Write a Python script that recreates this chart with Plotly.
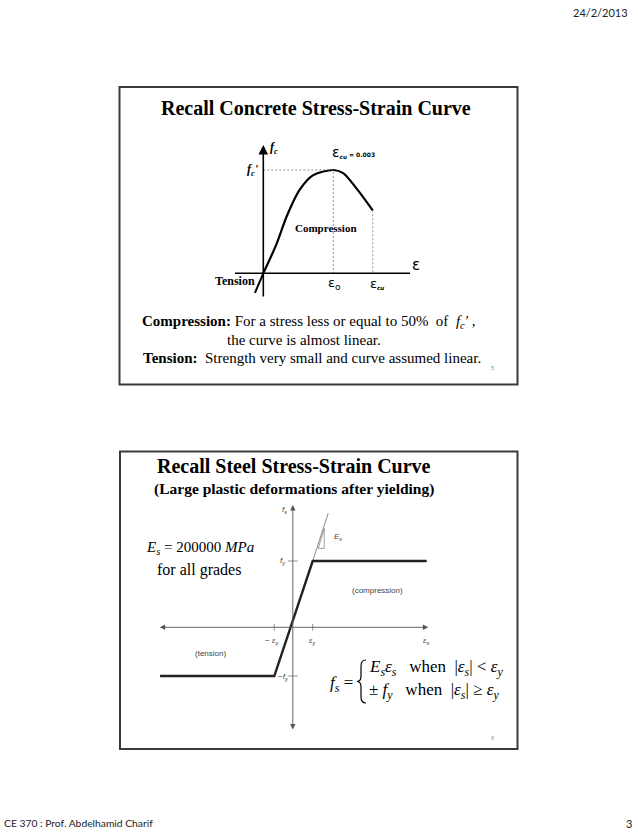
import plotly.graph_objects as go

W, H = 638, 837

# ---------------- data ----------------
# Concrete (strain in 1/1000, stress as fraction of f'c)
conc_strain = [0, 0.37, 0.64, 1.0, 1.37, 1.92, 2.19, 2.56, 3.0]
conc_stress = [0, 0.29, 0.55, 0.81, 0.95, 1.0, 0.97, 0.82, 0.61]
tens_strain = [-0.23, 0]
tens_stress = [-0.19, 0]
eps_o, eps_cu, fc_peak = 1.92, 3.0, 1.0

# Steel (strain / eps_y, stress / f_y)
steel_strain = [-6.67, -0.93, 1.0, 6.73]
steel_stress = [-0.735, -0.735, 1.0, 1.0]
ext_strain = [1.0, 1.78]
ext_stress = [1.0, 1.72]
tri_strain = [1.28, 1.58, 1.58]
tri_stress = [1.19, 1.19, 1.49]
steel_xticks = [-0.93, 1.0]
steel_yticks = [-0.735, 1.0]

# ---------------- helpers ----------------
def X(px):
    return px / W

def Y(py):
    return 1 - py / H

def axis_setup(px_lo, px_hi, origin_px, k, vertical=False):
    if not vertical:
        dom = [px_lo / W, px_hi / W]
        rng = [(px_lo - origin_px) / k, (px_hi - origin_px) / k]
    else:
        dom = [1 - px_hi / H, 1 - px_lo / H]
        rng = [(origin_px - px_hi) / k, (origin_px - px_lo) / k]
    return dict(domain=dom, range=rng, visible=False, fixedrange=True)

# concrete frame: origin px (263.3, 273.3)
cx0, cy0, ckx, cky = 263.3, 273.3, 36.47, 103.3
# steel frame: origin px (292.8, 627.3)
sx0, sy0, skx, sky = 292.8, 627.3, 19.9, 66.3

fig = go.Figure()

# concrete curves
fig.add_trace(go.Scatter(x=conc_strain, y=conc_stress, mode="lines",
                         line=dict(color="black", width=2.2, shape="spline", smoothing=0.8),
                         xaxis="x", yaxis="y", hoverinfo="skip"))
fig.add_trace(go.Scatter(x=tens_strain, y=tens_stress, mode="lines",
                         line=dict(color="black", width=2),
                         xaxis="x", yaxis="y", hoverinfo="skip"))
# dashed guides
fig.add_trace(go.Scatter(x=[0, eps_o, eps_o], y=[fc_peak, fc_peak, 0], mode="lines",
                         line=dict(color="#777", width=0.8, dash="2px,2px"),
                         xaxis="x", yaxis="y", hoverinfo="skip"))
fig.add_trace(go.Scatter(x=[eps_cu, eps_cu], y=[conc_stress[-1], 0], mode="lines",
                         line=dict(color="#777", width=0.8, dash="2px,2px"),
                         xaxis="x", yaxis="y", hoverinfo="skip"))

# steel curves
fig.add_trace(go.Scatter(x=ext_strain, y=ext_stress, mode="lines",
                         line=dict(color="#888", width=1),
                         xaxis="x2", yaxis="y2", hoverinfo="skip"))
fig.add_trace(go.Scatter(x=tri_strain + [tri_strain[0]], y=tri_stress + [tri_stress[0]], mode="lines",
                         line=dict(color="#888", width=0.8),
                         xaxis="x2", yaxis="y2", hoverinfo="skip"))
fig.add_trace(go.Scatter(x=steel_strain, y=steel_stress, mode="lines",
                         line=dict(color="#222", width=2.4),
                         xaxis="x2", yaxis="y2", hoverinfo="skip"))
# ticks
for t in steel_xticks:
    fig.add_trace(go.Scatter(x=[t, t], y=[-0.05, 0.05], mode="lines",
                             line=dict(color="#777", width=0.8),
                             xaxis="x2", yaxis="y2", hoverinfo="skip"))
for t in steel_yticks:
    fig.add_trace(go.Scatter(x=[-0.25, 0.25], y=[t, t], mode="lines",
                             line=dict(color="#777", width=0.8),
                             xaxis="x2", yaxis="y2", hoverinfo="skip"))

ann = []

def arrow(x, y, ax, ay, xr, yr, color, width, side="end", head=2):
    ann.append(dict(x=x, y=y, ax=ax, ay=ay, xref=xr, yref=yr, axref=xr, ayref=yr,
                    text="", showarrow=True, arrowhead=head, arrowsize=1.2, arrowwidth=width,
                    arrowcolor=color, arrowside=side, standoff=0, startstandoff=0))

# concrete axes
arrow(0, (cy0 - 145) / cky, 0, (cy0 - 298) / cky, "x", "y", "black", 1.6)
fig.add_trace(go.Scatter(x=[(235 - cx0) / ckx, (410 - cx0) / ckx], y=[0, 0], mode="lines",
                         line=dict(color="black", width=1.6), xaxis="x", yaxis="y", hoverinfo="skip"))
# steel axes
arrow((428.3 - sx0) / skx, 0, (158.3 - sx0) / skx, 0, "x2", "y2", "#555", 0.9, side="end+start")
arrow(0, (sy0 - 505) / sky, 0, (sy0 - 731) / sky, "x2", "y2", "#555", 0.9, side="end+start")

def txt(px, py, text, size, color="black", family="Liberation Serif", xanchor="center", yanchor="middle"):
    ann.append(dict(x=X(px), y=Y(py), xref="paper", yref="paper", text=text, showarrow=False,
                    font=dict(size=size, color=color, family=family),
                    xanchor=xanchor, yanchor=yanchor))

serif = "Liberation Serif"
sans = "Liberation Sans"
eps_font = "DejaVu Sans"

# date / footer
txt(600, 12, "24/2/2013", 11, "#222", "Lato")
txt(2, 823, "CE 370 : Prof. Abdelhamid Charif", 10.3, "#222", "Lato", xanchor="left")
txt(629, 823, "3", 11, "#222", "Lato")

# ---- slide 1 ----
txt(316, 108, "<b>Recall Concrete Stress-Strain Curve</b>", 20, family=serif)
txt(268, 148, "<b><i>f<sub>c</sub></i></b>", 12, family=serif, xanchor="left")
txt(261, 170, "<b><i>f<sub>c</sub>'</i></b>", 12, family=serif, xanchor="right")
txt(330, 152, "ε<span style='font-size:8px'><sub><b><i>cu</i></b></sub></span><b><span style='font-size:6px'> = 0.003</span></b>",
    14, family=eps_font, xanchor="left")
txt(326, 228, "<b>Compression</b>", 11, family=serif)
txt(235, 281, "<b>Tension</b>", 12, family=serif)
txt(334, 283, "ε<sub>o</sub>", 13, family=eps_font)
txt(377, 283, "ε<span style='font-size:8px'><sub><b><i>cu</i></b></sub></span>", 13, family=eps_font)
txt(416, 265, "ε", 15, family=eps_font)

txt(140, 322, "<b>Compression:</b> For a stress less or equal to 50%  of  <i>f<sub>c</sub>′</i> ,", 15, family=serif, xanchor="left")
txt(304, 340, "the curve is almost linear.", 15, family=serif)
txt(141, 358, "<b>Tension:</b>  Strength very small and curve assumed linear.", 15, family=serif, xanchor="left")
txt(493, 368, "5", 6, "#999", sans)

# ---- slide 2 ----
txt(155, 466, "<b>Recall Steel Stress-Strain Curve</b>", 20, family=serif, xanchor="left")
txt(152, 489, "<b>(Large plastic deformations after yielding)</b>", 15.5, family=serif, xanchor="left")
txt(144, 548, "<i>E<sub>s</sub></i> = 200000 <i>MPa</i>", 15, family=serif, xanchor="left")
txt(155, 570, "for all grades", 16, family=serif, xanchor="left")

txt(284, 510, "<i>f<sub>s</sub></i>", 8, "#444", sans)
txt(338, 537, "<i>E<sub>s</sub></i>", 8, "#444", sans)
txt(288, 561, "<i>f<sub>y</sub></i>", 8, "#444", sans, xanchor="right")
txt(377, 590, "(compression)", 8, "#444", sans)
txt(210, 653, "(tension)", 8, "#444", sans)
txt(272, 641, "− <i>ε<sub>y</sub></i>", 8, "#444", sans)
txt(313, 641, "<i>ε<sub>y</sub></i>", 8, "#444", sans)
txt(426, 641, "<i>ε<sub>s</sub></i>", 8, "#444", sans)
txt(276, 677, "−<i>f<sub>y</sub></i>", 8, "#444", sans, xanchor="left")

txt(355, 684, "<i>f<sub>s</sub></i> =", 17, family=serif, xanchor="right")
txt(367, 668, "<i>E<sub>s</sub>ε<sub>s</sub></i>   when  |<i>ε<sub>s</sub></i>| &lt; <i>ε<sub>y</sub></i>", 17, family=serif, xanchor="left")
txt(367, 691, "± <i>f<sub>y</sub></i>   when  |<i>ε<sub>s</sub></i>| ≥ <i>ε<sub>y</sub></i>", 17, family=serif, xanchor="left")
txt(493, 738, "6", 6, "#999", sans)

shapes = []
for (x0, y0, x1, y1) in [(119.5, 87, 517.5, 384.5), (120, 451.5, 517.5, 749)]:
    shapes.append(dict(type="rect", xref="paper", yref="paper", x0=X(x0), y0=Y(y0), x1=X(x1), y1=Y(y1),
                       line=dict(color="#3a3a3a", width=2), fillcolor="rgba(0,0,0,0)"))

# curly brace of the piecewise formula
def P(px, py):
    return f"{X(px):.5f},{Y(py):.5f}"
brace = (f"M {P(366, 660)} Q {P(361, 660)} {P(361, 666)} L {P(361, 676)} "
         f"Q {P(361, 681.5)} {P(357, 681.5)} Q {P(361, 681.5)} {P(361, 687)} "
         f"L {P(361, 697)} Q {P(361, 703)} {P(366, 703)}")
shapes.append(dict(type="path", xref="paper", yref="paper", path=brace,
                   line=dict(color="black", width=1.2)))

fig.update_layout(
    width=W, height=H, margin=dict(l=0, r=0, t=0, b=0),
    paper_bgcolor="white", plot_bgcolor="rgba(0,0,0,0)", showlegend=False,
    xaxis=axis_setup(225, 440, cx0, ckx),
    yaxis=axis_setup(140, 300, cy0, cky, vertical=True),
    xaxis2=axis_setup(150, 440, sx0, skx),
    yaxis2=axis_setup(500, 740, sy0, sky, vertical=True),
    annotations=ann, shapes=shapes,
)
fig.update_layout(xaxis2=dict(anchor="y2"), yaxis2=dict(anchor="x2"))

fig.write_html("out.html", config={"displayModeBar": False, "staticPlot": True},
               post_script="document.body.style.margin='0';document.body.style.padding='0';")
